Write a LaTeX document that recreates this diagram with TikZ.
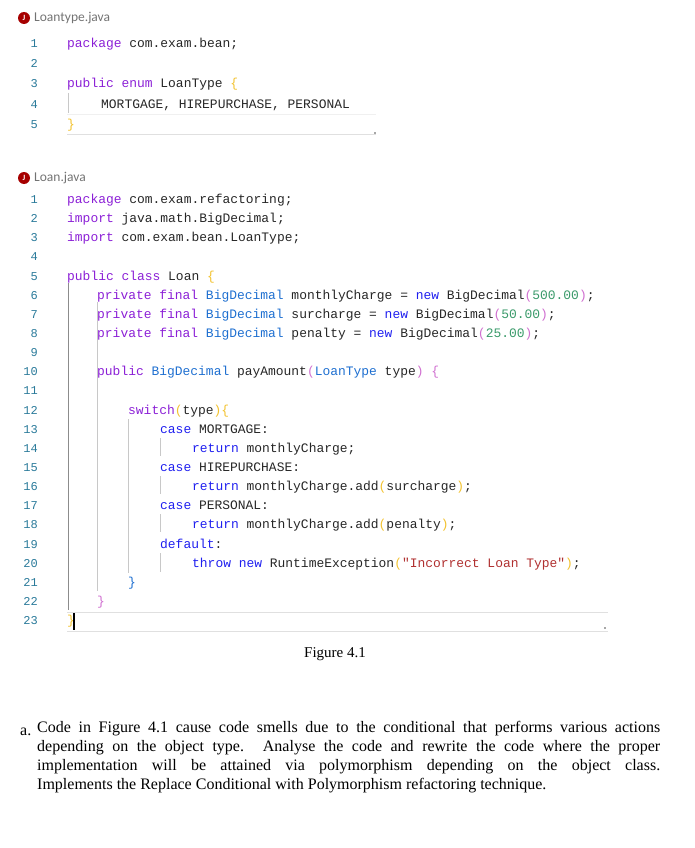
\documentclass[tikz,border=0pt]{standalone}
\usepackage{fontspec}
\setmainfont{Liberation Serif}
\newfontfamily\codef{Liberation Mono}
\newfontfamily\uif{Carlito}
\definecolor{kw}{HTML}{8B1FD6}
\definecolor{kb}{HTML}{1F1FEF}
\definecolor{ty}{HTML}{1E6FD0}
\definecolor{num}{HTML}{3A9A6A}
\definecolor{par}{HTML}{D070D0}
\definecolor{brc}{HTML}{F2C230}
\definecolor{str}{HTML}{B03030}
\definecolor{ln}{HTML}{2A7A9A}
\definecolor{guide}{HTML}{C8C8C8}
\newcommand{\K}[1]{\textcolor{kw}{#1}}
\newcommand{\B}[1]{\textcolor{kb}{#1}}
\newcommand{\T}[1]{\textcolor{ty}{#1}}
\newcommand{\N}[1]{\textcolor{num}{#1}}
\newcommand{\Pa}[1]{\textcolor{par}{#1}}
\newcommand{\Br}[1]{\textcolor{brc}{#1}}
\newcommand{\St}[1]{\textcolor{str}{#1}}
\tikzset{
 code/.style={anchor=base west,inner sep=0pt,font=\codef\fontsize{12.95}{14}\selectfont,text=black!85},
 lnum/.style={anchor=base east,inner sep=0pt,font=\codef\fontsize{12}{14}\selectfont,text=ln},
 title/.style={anchor=west,inner sep=0pt,font=\uif\fontsize{13.5}{15}\selectfont,text=black!55},
 icon/.style={circle,fill=red!65!black,inner sep=0pt,minimum size=12pt,text=white,font=\uif\bfseries\fontsize{8}{8}\selectfont},
 gd/.style={guide,line width=0.8pt},
 sep/.style={black!12,line width=0.8pt},
 para/.style={anchor=base west,inner sep=0pt,font=\fontsize{16}{19}\selectfont,text width=623pt,align=justify}
}
\begin{document}
\begin{tikzpicture}[x=1pt,y=-1pt]
\useasboundingbox (0,0) rectangle (695,848);
% Loantype.java
\node[icon] (i1) at (24,18) {J};
\node[title] (t1) at (34,18) {Loantype.java};
\foreach \n in {1,...,5}{\node[lnum] (a\n) at (38,{43+(\n-1)*20.2+4.5}) {\n};}
\def\ya#1{{43+(#1-1)*20.2+4.5}}
\node[code] (a1c) at (67,\ya{1}) {\K{package} com.exam.bean;};
\node[code] (a3c) at (67,\ya{3}) {\K{public} \K{enum} LoanType \Br{\{}};
\node[code] (a4c) at (101,\ya{4}) {MORTGAGE, HIREPURCHASE, PERSONAL};
\node[code] (a5c) at (67,\ya{5}) {\Br{\}}};
\draw[gd] (68,93) -- (68,113);
\draw[black!6,line width=0.8pt] (67,114) -- (376,114);
\draw[sep] (67,134) -- (376,134);
\fill[black!70] (375,133) circle (0.9);
% Loan.java
\node[icon] (i2) at (24,178) {J};
\node[title] (t2) at (34,178) {Loan.java};
\def\yb#1{{199+(#1-1)*19.14+4.5}}
\foreach \n in {1,...,23}{\node[lnum] (b\n) at (38,{199+(\n-1)*19.14+4.5}) {\n};}
\node[code] at (67,\yb{1}) {\K{package} com.exam.refactoring;};
\node[code] at (67,\yb{2}) {\K{import} java.math.BigDecimal;};
\node[code] at (67,\yb{3}) {\K{import} com.exam.bean.LoanType;};
\node[code] at (67,\yb{5}) {\K{public} \K{class} Loan \Br{\{}};
\node[code] at (97,\yb{6}) {\K{private} \K{final} \T{BigDecimal} monthlyCharge = \B{new} BigDecimal\Pa{(}\N{500.00}\Pa{)};};
\node[code] at (97,\yb{7}) {\K{private} \K{final} \T{BigDecimal} surcharge = \B{new} BigDecimal\Pa{(}\N{50.00}\Pa{)};};
\node[code] at (97,\yb{8}) {\K{private} \K{final} \T{BigDecimal} penalty = \B{new} BigDecimal\Pa{(}\N{25.00}\Pa{)};};
\node[code] at (97,\yb{10}) {\K{public} \T{BigDecimal} payAmount\Pa{(}\T{LoanType} type\Pa{)} \Pa{\{}};
\node[code] at (128,\yb{12}) {\K{switch}\Br{(}type\Br{)}\Br{\{}};
\node[code] at (160,\yb{13}) {\B{case} MORTGAGE:};
\node[code] at (192,\yb{14}) {\B{return} monthlyCharge;};
\node[code] at (160,\yb{15}) {\B{case} HIREPURCHASE:};
\node[code] at (192,\yb{16}) {\B{return} monthlyCharge.add\Br{(}surcharge\Br{)};};
\node[code] at (160,\yb{17}) {\B{case} PERSONAL:};
\node[code] at (192,\yb{18}) {\B{return} monthlyCharge.add\Br{(}penalty\Br{)};};
\node[code] at (160,\yb{19}) {\B{default}:};
\node[code] at (192,\yb{20}) {\B{throw} \B{new} RuntimeException\Br{(}\St{"Incorrect Loan Type"}\Br{)};};
\node[code] at (128,\yb{21}) {\textcolor{ty}{\}}};
\node[code] at (97,\yb{22}) {\Pa{\}}};
\node[code] at (67,\yb{23}) {\Br{\}}};
\draw[black!45,line width=0.8pt] (68,283) -- (68,610);
\draw[gd] (97,302) -- (97,591);
\draw[gd] (128,419) -- (128,573);
\draw[gd] (160,438) -- (160,456);
\draw[gd] (160,476) -- (160,494);
\draw[gd] (160,514) -- (160,532);
\draw[gd] (160,553) -- (160,572);
\draw[sep] (67,612) -- (608,612);
\draw[sep] (67,631) -- (608,631);
\draw[black,line width=1.2pt] (74,613) -- (74,630);
\fill[black!70] (605,628) circle (0.9);
\node[anchor=base,inner sep=0pt,font=\fontsize{15}{18}\selectfont] (fig) at (335,657) {Figure 4.1};
\node[anchor=base west,inner sep=0pt,font=\fontsize{16}{19}\selectfont] (a) at (20,735) {a.};
\node[para,anchor=north west] (p) at (37,721) {Code in Figure 4.1 cause code smells due to the conditional that performs various actions\linebreak depending on the object type. Analyse the code and rewrite the code where the proper\linebreak implementation will be attained via polymorphism depending on the object class.\linebreak Implements the Replace Conditional with Polymorphism refactoring technique.};
\end{tikzpicture}
\end{document}
